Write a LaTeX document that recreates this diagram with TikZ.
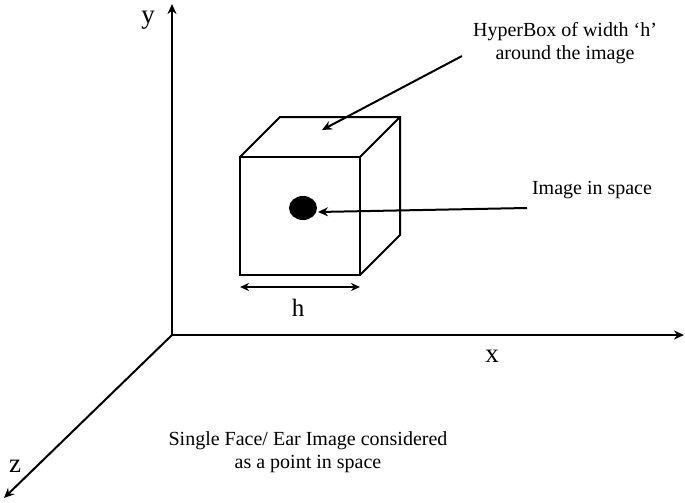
\documentclass[tikz,border=0pt]{standalone}
\usepackage{fontspec}
\setmainfont{Liberation Serif}
\usetikzlibrary{arrows.meta,shapes.geometric}
\begin{document}
\begin{tikzpicture}[x=1pt,y=-1pt,
  ln/.style={line width=2pt},
  arr/.style={ln,-{Stealth[length=10pt,width=9pt]}},
  lbl/.style={font=\fontsize{20}{23}\selectfont,align=center},
  ax/.style={font=\fontsize{27}{29}\selectfont}]
\useasboundingbox (0,0) rectangle (685,503);
\coordinate (O) at (172,335);
\coordinate (Y) at (172,4);
\coordinate (X) at (684,335);
\coordinate (Z) at (4,498);
\draw[arr] (O) -- (Y);
\draw[arr] (O) -- (X);
\draw[arr] (O) -- (Z);
\node[ax] (ly) at (148,20) {y};
\node[ax] (lx) at (492,356) {x};
\node[ax] (lz) at (15,466) {z};
% cube
\draw[ln] (240,157) rectangle (360,275);
\draw[ln] (240,157) -- (280,117) -- (400,117) -- (400,235) -- (360,275);
\draw[ln] (360,157) -- (400,117);
\node[ellipse,fill=black,minimum width=28pt,minimum height=24pt,inner sep=0] (dot) at (303,208) {};
\coordinate (h1) at (240,287); \coordinate (h2) at (360,287);
\draw[ln,{Stealth[length=9pt,width=8pt]}-{Stealth[length=9pt,width=8pt]}] (h1) -- (h2);
\node[font=\fontsize{25}{27}\selectfont] (lh) at (298,308) {h};
\node[lbl] (hb) at (565,43) {HyperBox of width ‘h’\\around the image};
\coordinate (hbs) at (462,56); \coordinate (hbe) at (322,130);
\draw[arr] (hbs) -- (hbe);
\node[lbl] (im) at (592,190) {Image in space};
\coordinate (ims) at (527,208); \coordinate (ime) at (318,212);
\draw[arr] (ims) -- (ime);
\node[lbl] (bt) at (308,452) {Single Face/ Ear Image considered\\as a point in space};
\end{tikzpicture}
\end{document}
